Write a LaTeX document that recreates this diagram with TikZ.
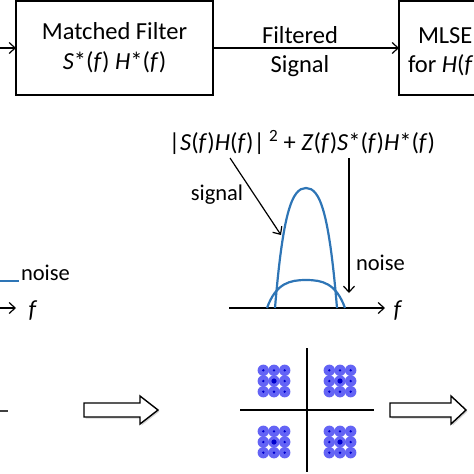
\documentclass[tikz,border=0pt]{standalone}
\usepackage{fontspec}
\setmainfont{Carlito}
\usetikzlibrary{arrows.meta,shadows}
\definecolor{curveblue}{RGB}{46,117,182}
\definecolor{dotouter}{RGB}{100,100,245}
\definecolor{dotinner}{RGB}{0,0,205}
\newcommand{\bigtext}{\fontsize{24.5}{30}\selectfont}
\newcommand{\smalltext}{\fontsize{22.5}{27}\selectfont}
\tikzstyle{block}=[draw, line width=1.6pt, minimum width=197pt, minimum height=94pt, align=center, font=\bigtext]
\tikzstyle{flow}=[line width=1.2pt, -{Straight Barb[length=6pt,width=11pt]}]
\tikzstyle{spectrum}=[curveblue, line width=2.2pt]
\tikzstyle{fatarrow}=[draw, line width=1.4pt, fill=white, line join=miter,
                      drop shadow={shadow xshift=1.5pt, shadow yshift=-1.5pt, opacity=0.35}]
\tikzstyle{symbolring}=[fill=dotouter]
\tikzstyle{symboldot}=[fill=dotinner]

\begin{document}
\begin{tikzpicture}[x=1pt, y=-1pt,
                    % Text nodes sit exactly on their anchors.
                    every node/.style={inner sep=0, outer sep=0}]
        \useasboundingbox (0, 0) rectangle (474, 474);
        % Top row: receiver chain.
        \node[block] (mf) at (114.5, 48) {Matched Filter\\\textit{S}*(\textit{f}) \textit{H}*(\textit{f})};
        \node[block, anchor=west] (mlse) at (399, 48) {};
        \node[anchor=base west] (mlsetop) at (418, 43) {\bigtext MLSE};
        \node[anchor=base west] (mlsebot) at (408, 72) {\bigtext for \textit{H}(\textit{f})};
        \coordinate (src) at (-4, 48);
        \draw[flow] (src) -- (mf.west);
        \draw[flow] (mf) -- (mlse);
        \node[anchor=base] (filt) at (300, 43) {\bigtext Filtered};
        \node[anchor=base] (filtsig) at (300, 72) {\bigtext Signal};
        \node (cut) at (-5, 141) {\bigtext )};
        % Middle row, left spectrum.
        \coordinate (floorA) at (-5, 281);
        \coordinate (floorB) at (19, 281);
        \draw[spectrum] (floorA) -- (floorB);
        \node[anchor=west] (noiseL) at (21, 273) {\smalltext noise};
        \coordinate (axL) at (-5, 308);
        \coordinate (axLend) at (16, 308);
        \draw[flow] (axL) -- (axLend);
        \node (fL) at (33, 311) {\bigtext\textit{f}};
        % Middle row, right spectrum.
        \node (formula) at (302, 142) {\bigtext |\textit{S}(\textit{f})\textit{H}(\textit{f})|\,\textsuperscript{2} + \textit{Z}(\textit{f})\textit{S}*(\textit{f})\textit{H}*(\textit{f})};
        \coordinate (axR) at (229, 308);
        \coordinate (axRend) at (385, 308);
        \draw[flow] (axR) -- (axRend);
        \node (fR) at (398, 311) {\bigtext\textit{f}};
        \draw[spectrum] (275, 308) .. controls (283, 212) and (292, 188) .. (306, 188)
                                   .. controls (320, 188) and (329, 212) .. (337, 308);
        \draw[spectrum] (267, 308) .. controls (276, 283) and (290, 280) .. (306, 280)
                                   .. controls (322, 280) and (336, 283) .. (345, 308);
        \node (siglabel) at (217, 195) {\smalltext signal};
        \coordinate (sigtail) at (230, 158);
        \coordinate (sighead) at (281, 235);
        \draw[flow] (sigtail) -- (sighead);
        \coordinate (noisetail) at (349, 158);
        \coordinate (noisehead) at (349, 293);
        \draw[flow] (noisetail) -- (noisehead);
        \node[anchor=west] (noiseR) at (356, 263) {\smalltext noise};
        % Bottom row: constellation between two block arrows.
        \coordinate (stubA) at (-2, 411);
        \coordinate (stubB) at (8, 411);
        \draw[line width=1.2pt, black!75] (stubA) -- (stubB);
        \foreach \x/\hx/\tx in {84/140/158, 390/451/466}
            \draw[fatarrow] (\x, 403) -- (\hx, 403) -- (\hx, 396) -- (\tx, 410)
                            -- (\hx, 424) -- (\hx, 417) -- (\x, 417) -- cycle;
        \coordinate (reL) at (240, 410);
        \coordinate (reR) at (374, 410);
        \coordinate (imT) at (307, 348);
        \coordinate (imB) at (307, 472);
        \draw[line width=1.3pt] (reL) -- (reR);
        \draw[line width=1.3pt] (imT) -- (imB);
        \foreach \cx/\cy in {274/381, 340/381, 274/442, 340/442} {
            \foreach \dx in {-10.7, 0, 10.7}
                \foreach \dy in {-10.7, 0, 10.7}
                    \fill[symbolring] (\cx+\dx, \cy+\dy) circle (5.7);
            \foreach \dx in {-10.7, 0, 10.7}
                \foreach \dy in {-10.7, 0, 10.7}
                    \fill[symboldot] (\cx+\dx, \cy+\dy) circle (1.3);
            \fill[symboldot] (\cx, \cy) circle (2.6);
        }
    \end{tikzpicture}
\end{document}
